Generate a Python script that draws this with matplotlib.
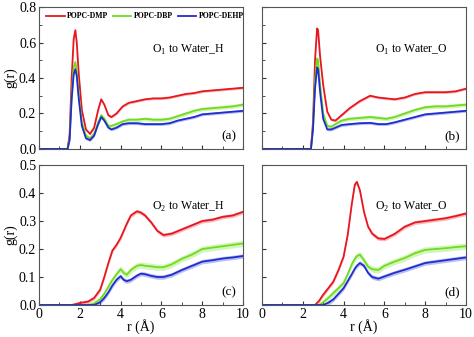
import matplotlib
matplotlib.use("Agg")
import matplotlib.pyplot as plt
from matplotlib.ticker import MultipleLocator, FormatStrFormatter
import numpy as np

plt.rcParams["font.family"] = ["Liberation Serif", "DejaVu Serif"]
plt.rcParams["mathtext.fontset"] = "custom"
plt.rcParams["mathtext.rm"] = "Liberation Serif"

SERIES = ["POPC-DMP", "POPC-DBP", "POPC-DEHP"]
COLORS = ["#e8171f", "#6fdc1e", "#1f2dd0"]
BAND = [0.007, 0.011, 0.008]

# (a) O1 to Water_H
R_A = [0, 1.4, 1.5, 1.6, 1.7, 1.78, 1.85, 1.95, 2.1, 2.3, 2.5, 2.7, 2.9, 3.05, 3.2, 3.4,
       3.55, 3.8, 4.1, 4.4, 4.8, 5.2, 5.6, 6.0, 6.4, 6.8, 7.2, 7.6, 8.0, 8.5, 9.0, 9.5, 10.0]
G_A_DMP = [0, 0, 0.08, 0.40, 0.62, 0.67, 0.60, 0.42, 0.22, 0.11, 0.085, 0.12, 0.22, 0.28, 0.25, 0.19,
           0.18, 0.20, 0.24, 0.26, 0.27, 0.28, 0.285, 0.285, 0.29, 0.30, 0.31, 0.315, 0.325, 0.33, 0.335, 0.34, 0.345]
G_A_DBP = [0, 0, 0.06, 0.30, 0.46, 0.49, 0.44, 0.30, 0.15, 0.075, 0.06, 0.085, 0.15, 0.19, 0.17, 0.13,
           0.13, 0.14, 0.155, 0.165, 0.165, 0.17, 0.165, 0.165, 0.17, 0.185, 0.20, 0.215, 0.225, 0.23, 0.235, 0.24, 0.25]
G_A_DEHP = [0, 0, 0.05, 0.28, 0.42, 0.45, 0.41, 0.28, 0.13, 0.06, 0.05, 0.075, 0.14, 0.18, 0.16, 0.12,
            0.11, 0.12, 0.14, 0.145, 0.145, 0.14, 0.14, 0.14, 0.145, 0.16, 0.17, 0.18, 0.195, 0.20, 0.205, 0.21, 0.215]

# (b) O1 to Water_O
R_B = [0, 2.4, 2.5, 2.6, 2.7, 2.75, 2.85, 3.0, 3.2, 3.4, 3.6, 3.9, 4.3, 4.8, 5.3, 5.7, 6.1,
       6.5, 7.0, 7.5, 8.0, 8.5, 9.0, 9.5, 10.0]
G_B_DMP = [0, 0, 0.15, 0.50, 0.68, 0.67, 0.52, 0.36, 0.21, 0.165, 0.16, 0.19, 0.23, 0.27, 0.30, 0.29, 0.285,
           0.28, 0.29, 0.31, 0.32, 0.32, 0.32, 0.325, 0.34]
G_B_DBP = [0, 0, 0.12, 0.38, 0.51, 0.50, 0.36, 0.20, 0.13, 0.125, 0.14, 0.16, 0.17, 0.175, 0.18, 0.175, 0.17,
           0.18, 0.20, 0.22, 0.235, 0.24, 0.24, 0.245, 0.25]
G_B_DEHP = [0, 0, 0.11, 0.34, 0.46, 0.45, 0.32, 0.17, 0.11, 0.11, 0.12, 0.135, 0.14, 0.145, 0.147, 0.14, 0.14,
            0.15, 0.165, 0.18, 0.195, 0.20, 0.205, 0.21, 0.215]

# (c) O2 to Water_H
R_C = [0, 1.6, 2.0, 2.4, 2.7, 3.0, 3.2, 3.4, 3.6, 3.8, 4.0, 4.15, 4.3, 4.5, 4.8, 5.0, 5.2, 5.5,
       5.8, 6.1, 6.5, 7.0, 7.5, 8.0, 8.5, 9.0, 9.5, 10.0]
G_C_DMP = [0, 0, 0.007, 0.012, 0.025, 0.055, 0.10, 0.15, 0.195, 0.215, 0.24, 0.265, 0.29, 0.32, 0.335, 0.33, 0.32, 0.295,
           0.265, 0.25, 0.255, 0.27, 0.285, 0.30, 0.305, 0.315, 0.32, 0.333]
G_C_DBP = [0, 0, 0, 0, 0.005, 0.02, 0.04, 0.065, 0.09, 0.11, 0.128, 0.115, 0.108, 0.125, 0.14, 0.143, 0.14, 0.138,
           0.135, 0.135, 0.145, 0.165, 0.18, 0.20, 0.205, 0.21, 0.215, 0.22]
G_C_DEHP = [0, 0, 0, 0, 0, 0.01, 0.025, 0.045, 0.07, 0.09, 0.103, 0.09, 0.085, 0.09, 0.105, 0.112, 0.11, 0.104,
            0.10, 0.10, 0.108, 0.125, 0.14, 0.155, 0.16, 0.166, 0.17, 0.175]

# (d) O2 to Water_O
R_D = [0, 2.6, 2.8, 3.0, 3.25, 3.5, 3.75, 4.0, 4.2, 4.4, 4.55, 4.65, 4.8, 5.0, 5.2, 5.4, 5.7,
       6.0, 6.5, 7.0, 7.5, 8.0, 8.5, 9.0, 9.5, 10.0]
G_D_DMP = [0, 0, 0.015, 0.037, 0.06, 0.084, 0.125, 0.173, 0.25, 0.36, 0.43, 0.44, 0.41, 0.333, 0.28, 0.255, 0.238,
           0.236, 0.254, 0.28, 0.295, 0.30, 0.305, 0.31, 0.318, 0.327]
G_D_DBP = [0, 0, 0, 0.01, 0.025, 0.043, 0.06, 0.078, 0.11, 0.145, 0.165, 0.175, 0.18, 0.16, 0.137, 0.128, 0.125,
           0.14, 0.155, 0.168, 0.185, 0.197, 0.20, 0.203, 0.207, 0.21]
G_D_DEHP = [0, 0, 0, 0, 0.008, 0.02, 0.04, 0.06, 0.085, 0.11, 0.13, 0.14, 0.15, 0.14, 0.115, 0.10, 0.094,
            0.102, 0.115, 0.126, 0.138, 0.15, 0.155, 0.16, 0.165, 0.17]

PANELS = [
    (R_A, [G_A_DMP, G_A_DBP, G_A_DEHP], "O$_1$ to Water_H", "(a)"),
    (R_B, [G_B_DMP, G_B_DBP, G_B_DEHP], "O$_1$ to Water_O", "(b)"),
    (R_C, [G_C_DMP, G_C_DBP, G_C_DEHP], "O$_2$ to Water_H", "(c)"),
    (R_D, [G_D_DMP, G_D_DBP, G_D_DEHP], "O$_2$ to Water_O", "(d)"),
]

fig = plt.figure(figsize=(4.74, 3.37), dpi=100)
x0, x1 = 0.0823, 0.5527
w = 0.4304
ytop, hbot = 0.558, 0.095
h_top, h_bot = 0.421, 0.415
boxes = [(x0, ytop, w, h_top), (x1, ytop, w, h_top), (x0, hbot, w, h_bot), (x1, hbot, w, h_bot)]

for i, (box, (r, curves, title, tag)) in enumerate(zip(boxes, PANELS)):
    ax = fig.add_axes(box)
    r = np.asarray(r)
    for g, color, band, name in zip(curves, COLORS, BAND, SERIES):
        g = np.asarray(g)
        lo = np.where(g > 0, g - band, 0)
        hi = np.where(g > 0, g + band, 0)
        ax.fill_between(r, lo, hi, color=color, alpha=0.3, linewidth=0)
        ax.plot(r, g, color=color, lw=1.3, label=name)

    ax.set_xlim(0, 10)
    ax.xaxis.set_major_locator(MultipleLocator(2))
    ax.xaxis.set_minor_locator(MultipleLocator(1))
    if i < 2:
        ax.set_ylim(0, 0.8)
        ax.yaxis.set_major_locator(MultipleLocator(0.2))
        ax.yaxis.set_minor_locator(MultipleLocator(0.1))
        ax.tick_params(labelbottom=False)
    else:
        ax.set_ylim(0, 0.5)
        ax.yaxis.set_major_locator(MultipleLocator(0.1))
    if i % 2 == 1:
        ax.tick_params(labelleft=False)
    else:
        ax.yaxis.set_major_formatter(FormatStrFormatter("%.1f"))

    ax.tick_params(which="both", direction="in", labelsize=10, pad=2, colors="#333333",
                   labelcolor="black")
    ax.tick_params(which="major", length=3)
    ax.tick_params(which="minor", length=2)
    for sp in ax.spines.values():
        sp.set_color("#555555")
        sp.set_linewidth(0.8)

    ax.text(0.73, 0.70, title, transform=ax.transAxes, ha="center", va="center", fontsize=8.5)
    ax.text(0.93, 0.09, tag, transform=ax.transAxes, ha="center", va="center", fontsize=9.5)

    if i == 0:
        ax.legend(loc="upper right", bbox_to_anchor=(1.015, 0.98), ncol=3, frameon=False,
                  prop={"size": 5.6, "weight": "bold"}, handlelength=2.4, handletextpad=0.3,
                  columnspacing=0.6, borderaxespad=0.1, borderpad=0.2)

fig.text(0.022, 0.769, "g(r)", rotation=90, ha="center", va="center", fontsize=10)
fig.text(0.022, 0.303, "g(r)", rotation=90, ha="center", va="center", fontsize=10)
fig.text(0.297, 0.03, "r (Å)", ha="center", va="center", fontsize=10)
fig.text(0.768, 0.03, "r (Å)", ha="center", va="center", fontsize=10)

fig.savefig("out.png", dpi=100)
